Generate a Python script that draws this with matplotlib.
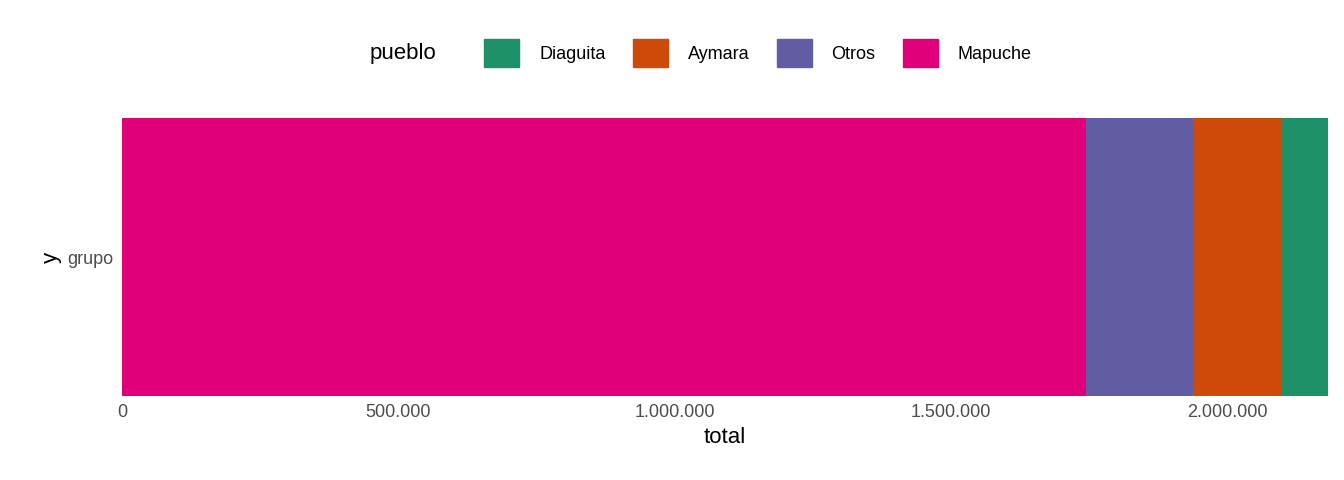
import matplotlib
matplotlib.use("Agg")
import matplotlib.pyplot as plt
from matplotlib.patches import Patch
from matplotlib.ticker import FuncFormatter

pueblos = ["Mapuche", "Otros", "Aymara", "Diaguita"]
totales = [1745000, 194000, 159000, 85000]
colores = {"Diaguita": "#1D9068", "Aymara": "#CE4A08", "Otros": "#625CA5", "Mapuche": "#DF0079"}
legend_order = ["Diaguita", "Aymara", "Otros", "Mapuche"]
categoria = "grupo"

plt.rcParams['font.family'] = ['Liberation Sans', 'DejaVu Sans']
fig = plt.figure(figsize=(13.44, 4.8), dpi=100)
ax = fig.add_axes([122/1344, 1-396/480, (1328-122)/1344, (396-118)/480])

left = 0
for p, v in zip(pueblos, totales):
    ax.barh([categoria], [v], left=left, height=1.0, color=colores[p])
    left += v
ax.set_xlim(0, left)
ax.set_ylim(-0.5, 0.5)
for s in ax.spines.values():
    s.set_visible(False)
ax.tick_params(length=0, labelsize=13, colors="#4d4d4d", pad=6)
ax.xaxis.set_major_formatter(FuncFormatter(lambda x, _: f"{int(x):,}".replace(",", ".")))
ax.set_xticks([0, 500000, 1000000, 1500000, 2000000])
ax.set_xlabel("total", fontsize=16, labelpad=4)
ax.set_ylabel("y", fontsize=16, rotation=90, labelpad=4)

handles = [Patch(color=colores[p], label=p) for p in legend_order]
fig.text(370/1344, 1-53/480, "pueblo", fontsize=16, va="center", ha="left")
fig.legend(handles=handles, loc="center left", bbox_to_anchor=(468/1344, 1-53/480),
           ncol=4, frameon=False, fontsize=13, handlelength=1.95, handleheight=1.95,
           columnspacing=1.5, handletextpad=1.1)
fig.savefig("out.png", dpi=100)
